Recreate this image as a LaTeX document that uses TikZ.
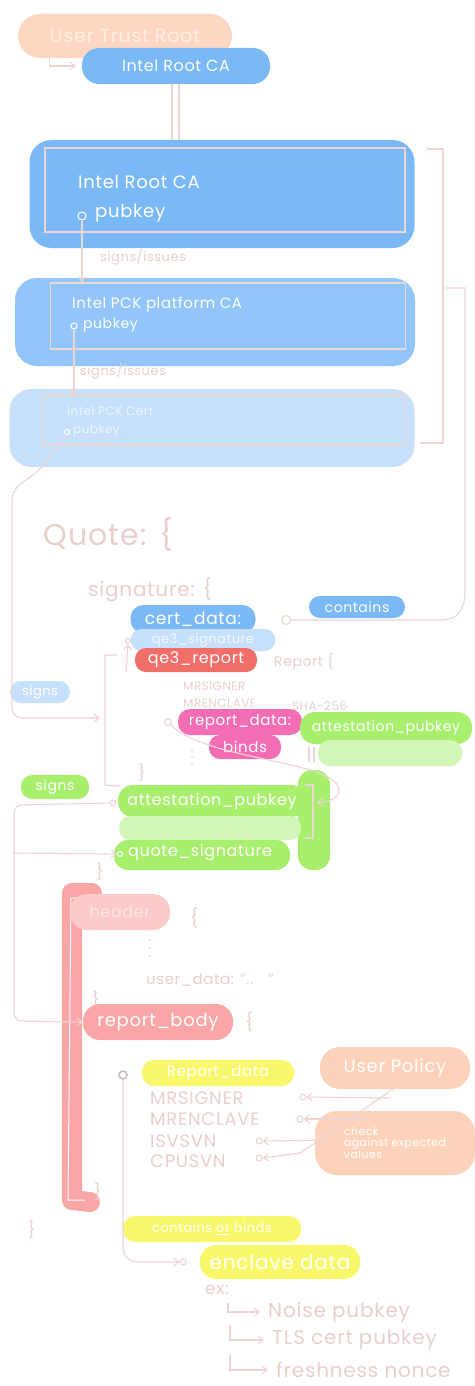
\documentclass[tikz,border=0pt]{standalone}
\usepackage{fontspec}
\setmainfont{Poppins}[LetterSpace=4]
\usetikzlibrary{arrows.meta,calc}
\definecolor{lnc}{HTML}{EDD5D3}
\definecolor{txc}{HTML}{E8D0CC}
\definecolor{peach}{HTML}{FDD7C2}
\definecolor{blueA}{HTML}{7BB8F6}
\definecolor{blueB}{HTML}{92C5F9}
\definecolor{blueC}{HTML}{C6E0FC}
\definecolor{redq}{HTML}{F26F69}
\definecolor{pinkm}{HTML}{F36DB5}
\definecolor{grn}{HTML}{A9EF6E}
\definecolor{grnl}{HTML}{D3F7B8}
\definecolor{salm}{HTML}{FAA6A6}
\definecolor{salml}{HTML}{FBCACA}
\definecolor{yel}{HTML}{F9F86C}
\definecolor{polc}{HTML}{FCD3BA}
\definecolor{rgc}{HTML}{CDBDBA}
\begin{document}
\begin{tikzpicture}[x=1pt,y=-1pt,
  blob/.style={fill=#1, draw=none, rounded corners=11pt, inner sep=0pt},
  bigblob/.style={fill=#1, draw=none, rounded corners=22pt, inner sep=0pt},
  wt/.style={text=white},
  fs/.style={font=\fontsize{#1}{#1}\selectfont},
  pt/.style={text=txc, anchor=west, inner sep=0pt},
  lt/.style={text=white, anchor=west, inner sep=0pt},
  ln/.style={draw=lnc, line width=1.1pt},
  arr/.style={ln, -{Straight Barb[length=5pt,width=8pt]}},
  rim/.style={draw=lnc, line width=1.2pt, fill=none, inner sep=0pt},
  ring/.style={circle, draw=#1, line width=1.1pt, minimum size=7pt, inner sep=0pt},
  ring/.default=lnc,
  sdot/.style={circle, fill=txc, minimum size=2pt, inner sep=0pt}]
\fill[white] (0,0) rectangle (474,1386);
\useasboundingbox (0,0) rectangle (474,1386);

% top
\node[bigblob=peach, minimum width=214pt, minimum height=44pt, wt, fs=19, text opacity=0.6] (utr) at (125,36) {User Trust Root};
\node[blob=blueA, rounded corners=17pt, minimum width=188pt, minimum height=36pt, wt, fs=16] (irca) at (176,66) {Intel Root CA};
\draw[arr] ([xshift=32pt]utr.south west) |- ([xshift=-6pt]irca.west);

% block 1
\node[bigblob=blueA, minimum width=385pt, minimum height=108pt] (b1) at (222,194) {};
\node[rim, minimum width=360pt, minimum height=84pt] (b1r) at (225,190) {};
\node[lt, fs=18] (b1t) at (78,182) {Intel Root CA};
\node[ring=white, minimum size=8pt] (b1k) at (82,216) {};
\node[lt, fs=18] (b1p) at (95,213) {pubkey};
\draw[ln] ([xshift=-4pt]irca.south) -- ([xshift=-4pt]irca.south |- b1.north);
\draw[ln] ([xshift=3pt]irca.south) -- ([xshift=3pt]irca.south |- b1.north);

% block 2
\node[bigblob=blueB, minimum width=400pt, minimum height=88pt] (b2) at (215,322) {};
\node[rim, minimum width=355pt, minimum height=66pt] (b2r) at (228,316) {};
\node[lt, fs=15] (b2t) at (72,305) {Intel PCK platform CA};
\node[ring=white, minimum size=6pt] (b2k) at (74,326) {};
\node[lt, fs=14] (b2p) at (83,325) {pubkey};
\draw[arr] (b1k.south) -- (b1k.south |- b2r.north);
\node[pt, fs=13] (si1) at (100,257) {signs/issues};

% block 3
\node[bigblob=blueC, minimum width=405pt, minimum height=78pt] (b3) at (212,428) {};
\node[rim, minimum width=363pt, minimum height=50pt] (b3r) at (224,420) {};
\node[lt, fs=12, text opacity=0.7] (b3t) at (67,411) {Intel PCK Cert};
\node[ring=white, minimum size=5pt] (b3k) at (67,432) {};
\node[lt, fs=12, text opacity=0.7] (b3p) at (73,431) {pubkey};
\draw[arr] (b2k.south) -- (b2k.south |- b3r.north);
\node[pt, fs=13] (si2) at (80,371) {signs/issues};

% right brackets
\coordinate (br1) at (427,149);
\coordinate (br2) at (420,443);
\draw[ln] (br1) -- (443,149) -- (443,443) -- (br2);

% quote
\node[pt, fs=30] (quote) at (43,534) {Quote: \{};
\node[pt, fs=20] (sig) at (88,590) {signature: \{};

\node[blob=blueA, rounded corners=13pt, minimum width=125pt, minimum height=28pt, wt, fs=17] (cd) at (193,619) {cert\_data:};
\node[ring, minimum size=9pt] (cdk) at (286,620) {};
\node[blob=blueA, minimum width=96pt, minimum height=22pt, wt, fs=14] (cont) at (357,607) {contains};
\draw[ln] (cdk.east) -- (440,620) .. controls (458,620) and (465,610) .. (465,590) -- (465,288) -- (446,288);

\node[blob=blueC, minimum width=145pt, minimum height=22pt, wt, fs=13, text opacity=0.8] (qs) at (203,640) {qe3\_signature};
\node[blob=redq, minimum width=122pt, minimum height=24pt, wt, fs=16] (qr) at (196,660) {qe3\_report};
\node[pt, fs=14] (rep) at (274,662) {Report \{};
\node[ring, minimum size=5pt] (qsk) at (128,641) {};

% signs (PCK cert -> qe3 report)
\node[blob=blueC, minimum width=60pt, minimum height=22pt, wt, fs=13] (sg1) at (40,692) {signs};
\coordinate (sgbr) at (100,718);
\draw[arr, rounded corners=10pt] (b3k.south) -- (40,470) -- (12,490) -- (12,718) -- (sgbr);
\draw[ln] (117,655) -- (105,655) -- (105,785) -- (120,786);
\draw[arr] (126,672) -- (qsk.south);

\node[pt, fs=12] (mrs1) at (183,686) {MRSIGNER};
\node[pt, fs=12] (mre1) at (183,703) {MRENCLAVE};
\node[ring, minimum size=7pt] (rdk) at (168,722) {};
\node[blob=pinkm, rounded corners=12pt, minimum width=124pt, minimum height=26pt, wt, fs=15] (rd) at (240,722) {report\_data:};
\node[blob=pinkm, minimum width=72pt, minimum height=24pt, wt, fs=15] (bnd) at (245,747) {binds};
\node[blob=grn, rounded corners=15pt, minimum width=172pt, minimum height=32pt, wt, fs=14] (ap1) at (386,728) {attestation\_pubkey};
\node[blob=grnl, rounded corners=12pt, minimum width=144pt, minimum height=26pt] (ap1l) at (390,753) {};
\node[pt, fs=12] (sha) at (292,706) {SHA-256};
\draw[ln] (309,747) -- (309,762);
\draw[ln] (314,747) -- (314,762);
\node[sdot] (d1) at (192,750) {};
\node[sdot] (d2) at (192,757) {};
\node[sdot] (d3) at (192,764) {};
\node[pt, fs=16] (cb1) at (138,773) {\}};

% attestation group
\node[blob=grn, rounded corners=14pt, minimum width=32pt, minimum height=100pt] (gbar) at (314,820) {};
\node[blob=grn, rounded corners=15pt, minimum width=188pt, minimum height=32pt, wt, fs=16] (ap2) at (212,801) {attestation\_pubkey};
\node[blob=grnl, minimum width=182pt, minimum height=24pt] (ap2l) at (210,828) {};
\node[blob=grn, rounded corners=14pt, minimum width=176pt, minimum height=30pt] (qsg) at (202,855) {};
\node[ring=white, minimum size=5pt] (qsk2) at (120,854) {};
\node[lt, fs=16] (qsgt) at (128,853) {quote\_signature};
\node[ring, minimum size=6pt] (atk) at (113,803) {};
\draw[ln] (305,785) -- (313,785) -- (313,838) -- (305,838);
\coordinate (atbr) at (317,803);
\draw[arr] (rdk.south east) .. controls (200,755) and (300,760) .. (330,778) .. controls (345,788) and (342,800) .. (atbr);

\node[blob=grn, minimum width=68pt, minimum height=24pt, wt, fs=14] (sg2) at (55,787) {signs};
\node[pt, fs=16] (cb2) at (96,872) {\}};

% report bar
\draw[salm, line width=20pt, line cap=round, line join=round] (92,893) -- (72,893) -- (72,1200) -- (90,1202);
\draw[white, line width=1pt] (84,898) -- (71,898) -- (68,1200) -- (85,1200);

\node[blob=salml, rounded corners=17pt, minimum width=100pt, minimum height=36pt, wt, fs=16, text opacity=0.5] (hdr) at (120,912) {header};
\node[pt, fs=18] (ob1) at (190,918) {\{};
\node[sdot] (d4) at (150,940) {};
\node[sdot] (d5) at (150,948) {};
\node[sdot] (d6) at (150,956) {};
\node[pt, fs=15] (ud) at (146,980) {user\_data: "..\quad "};
\node[pt, fs=16] (cb3) at (92,1000) {\}};

\node[blob=salm, rounded corners=17pt, minimum width=150pt, minimum height=36pt, wt, fs=18] (rbd) at (158,1022) {report\_body};
\node[pt, fs=18] (ob2) at (245,1022) {\{};

\draw[arr, rounded corners=8pt] (atk.west) -- (14,805) -- (14,1021) -- (rbd.west);
\draw[arr] (14,853) -- (qsk2.west);

% report body contents
\node[blob=yel, rounded corners=12pt, minimum width=152pt, minimum height=26pt, wt, fs=15] (rpd) at (218,1073) {Report\_data};
\node[ring=rgc, minimum size=8pt, line width=1.6pt] (rdk2) at (123,1075) {};
\node[pt, fs=18] (mrs2) at (150,1098) {MRSIGNER};
\node[ring, minimum size=6pt] (ms) at (303,1097) {};
\node[pt, fs=18] (mre2) at (150,1119) {MRENCLAVE};
\node[ring, minimum size=6pt] (me) at (300,1119) {};
\node[pt, fs=18] (isv) at (150,1141) {ISVSVN};
\node[ring, minimum size=6pt] (isvk) at (259,1141) {};
\node[pt, fs=18] (cpu) at (150,1161) {CPUSVN};
\node[ring, minimum size=6pt] (cpuk) at (259,1158) {};

\node[bigblob=polc, rounded corners=20pt, minimum width=150pt, minimum height=42pt, wt, fs=18] (up) at (395,1068) {User Policy};
\node[bigblob=polc, minimum width=160pt, minimum height=64pt, wt, fs=11, align=left] (chk) at (395,1143) {check\\against expected\\values};
\coordinate (a1) at (390,1098);
\coordinate (a2) at (365,1119);
\coordinate (a3) at (330,1140);
\coordinate (a4) at (300,1153);
\draw[arr] (a1) -- (ms.east);
\draw[arr] (a2) -- (me.east);
\draw[arr] (a3) -- (isvk.east);
\draw[arr] (a4) -- (cpuk.east);
\draw[ln] ([xshift=-2pt]up.south) -- (a4);

\node[pt, fs=16] (cb4) at (94,1192) {\}};
\node[pt, fs=16] (cb5) at (28,1230) {\}};

\node[blob=yel, rounded corners=12pt, minimum width=178pt, minimum height=26pt, wt, fs=13] (cob) at (212,1229) {contains \underline{or} binds};
\node[blob=yel, rounded corners=16pt, minimum width=160pt, minimum height=34pt, wt, fs=20] (ed) at (280,1262) {enclave data};
\node[ring, minimum size=6pt] (edk) at (183,1262) {};
\draw[arr, rounded corners=14pt] (rdk2.south) -- (rdk2.south |- edk) -- (edk.west);

\node[pt, fs=17] (ex) at (205,1290) {ex:};
\node[pt, fs=20] (n1) at (268,1312) {Noise pubkey};
\node[pt, fs=20] (n2) at (272,1340) {TLS cert pubkey};
\node[pt, fs=20] (n3) at (276,1370) {freshness nonce};
\coordinate (h1) at (228,1303);
\coordinate (h2) at (230,1325);
\coordinate (h3) at (230,1355);
\draw[arr] (h1) |- ([xshift=-8pt]n1.west);
\draw[arr] (h2) |- ([xshift=-8pt]n2.west);
\draw[arr] (h3) |- ([xshift=-8pt]n3.west);
\end{tikzpicture}
\end{document}
